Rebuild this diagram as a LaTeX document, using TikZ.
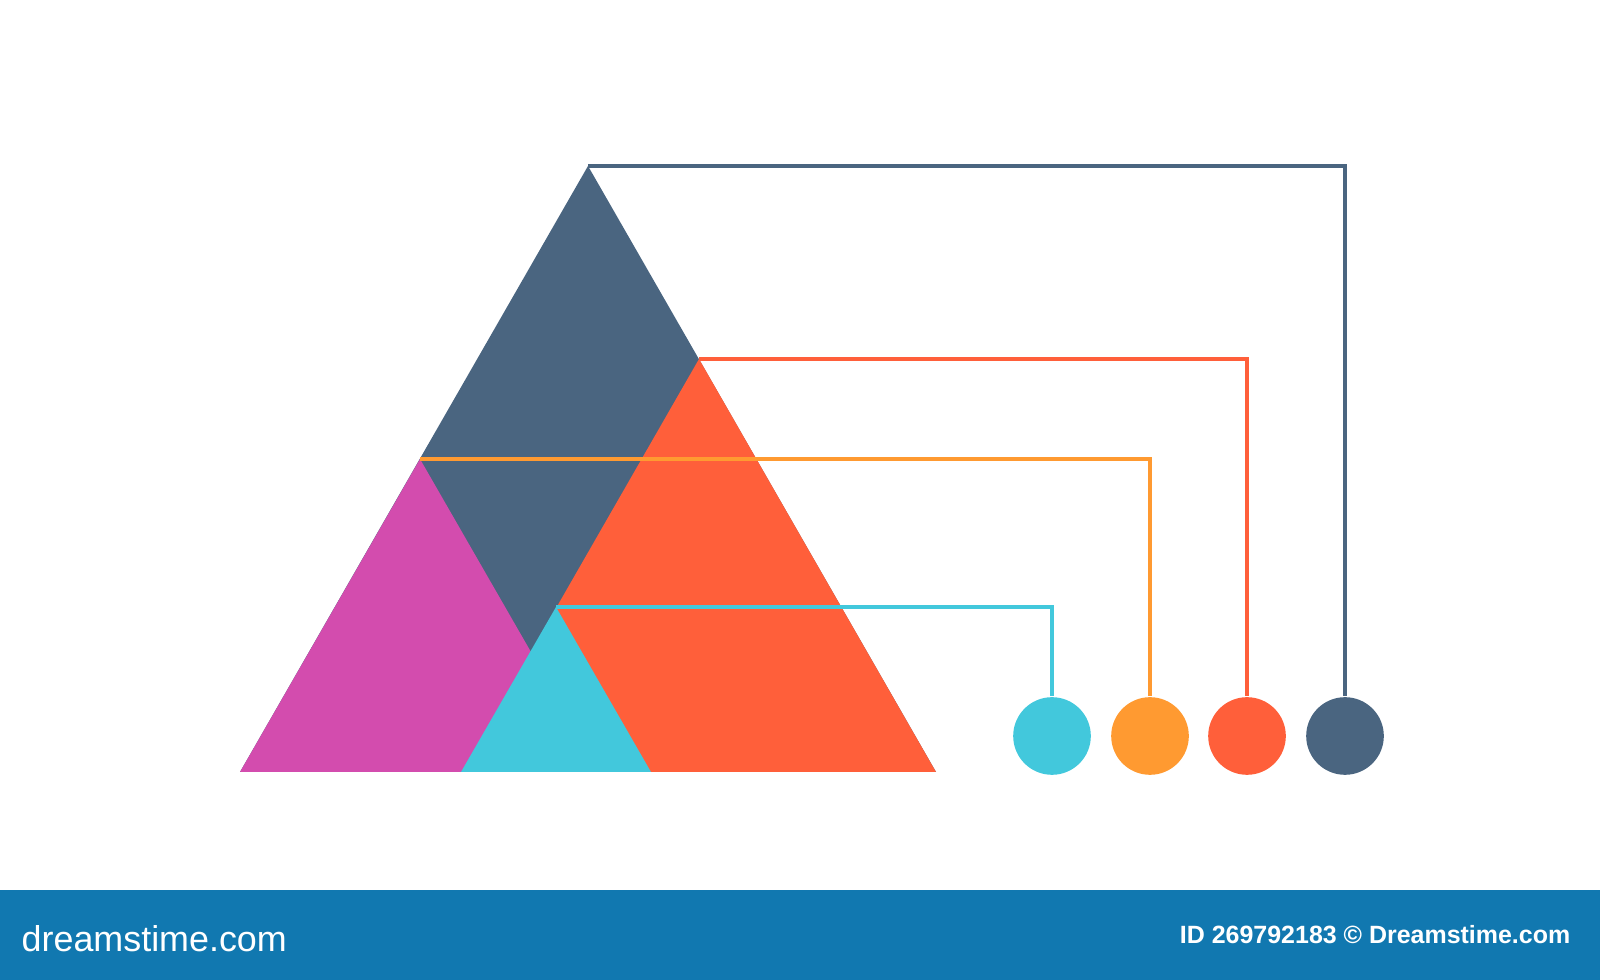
\documentclass[tikz,border=0pt]{standalone}
\usepackage{fontspec}
\setmainfont{Liberation Sans}
\definecolor{slate}{HTML}{4A6580}
\definecolor{coral}{HTML}{FF5F3A}
\definecolor{amber}{HTML}{FF9A31}
\definecolor{orchid}{HTML}{D34CAE}
\definecolor{aqua}{HTML}{42C8DC}
\definecolor{barblue}{HTML}{1178B0}
\begin{document}
\begin{tikzpicture}[
    x=0.01cm, y=-0.01cm,
    dot/.style={circle, inner sep=0pt, minimum size=0.776cm},
    link/.style={line width=1.3pt},
    barlabel/.style={text=white, inner sep=0pt}
]
\useasboundingbox (0,0) rectangle (1600,980);

% Triangle tips
\coordinate (apexD) at (588,166);
\coordinate (apexO) at (699,359);
\coordinate (apexY) at (420,459);
\coordinate (apexC) at (556,607);

% Triangles
\fill[slate] (apexD) -- (936,772) -- (240,772) -- cycle;
\fill[orchid] (apexY) -- (600,772) -- (240,772) -- cycle;
\fill[coral] (apexO) -- (936,772) -- (462,772) -- cycle;
\fill[aqua] (apexC) -- (651,772) -- (461,772) -- cycle;

% Circles
\foreach \name/\x/\col in {cC/1052/aqua, cY/1150/amber, cO/1247/coral, cD/1345/slate}
    \node[dot, fill=\col] (\name) at (\x,736) {};

% Links from tips to circles
\draw[link, slate] (apexD) -| (cD);
\draw[link, coral] (apexO) -| (cO);
\draw[link, amber] (apexY) -| (cY);
\draw[link, aqua] (apexC) -| (cC);

% Bottom bar
\fill[barblue] (0,890) rectangle (1600,980);
\node[barlabel, anchor=base west, font=\fontsize{10.2}{11}\selectfont] (site) at (21,952) {dreamstime.com};
\node[barlabel, anchor=base east, font=\bfseries\fontsize{7.1}{8}\selectfont] (imgid) at (1571,943) {ID 269792183 © Dreamstime.com};

\end{tikzpicture}
\end{document}
